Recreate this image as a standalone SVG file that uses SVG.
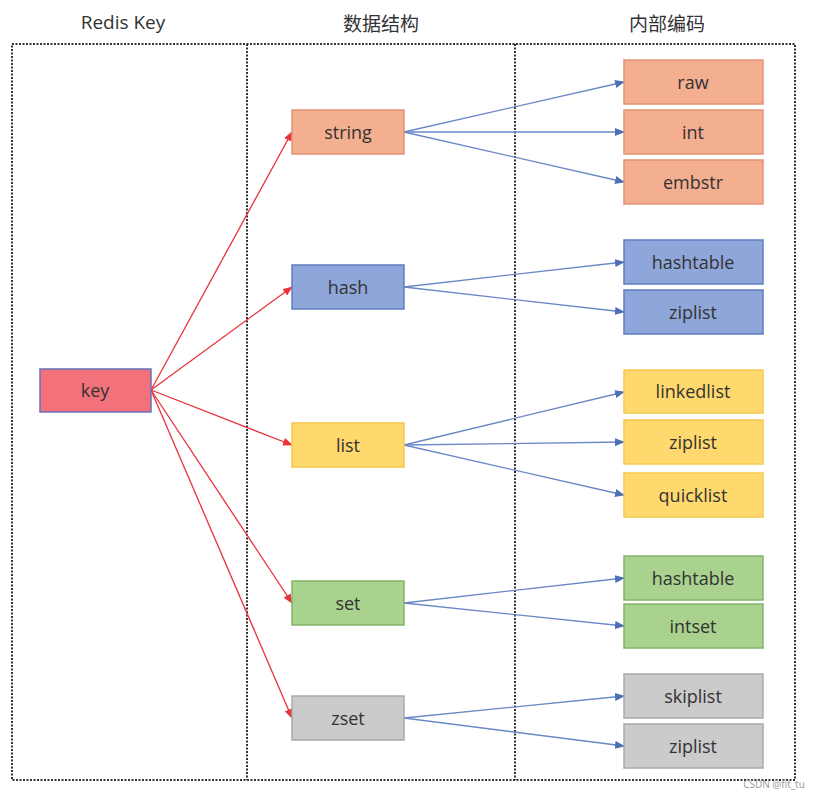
<svg xmlns="http://www.w3.org/2000/svg" width="822" height="798" viewBox="0 0 822 798">
<style>
text{font-family:"Open Sans","Noto Sans CJK SC",sans-serif;font-size:18px;fill:#333;text-anchor:middle;dominant-baseline:central}
.h{font-size:19px}
.o{fill:#F4AE90;stroke:#E39273;stroke-width:1.5}
.b{fill:#8FA6DA;stroke:#5F7EC2;stroke-width:1.5}
.y{fill:#FFD96E;stroke:#F6C84E;stroke-width:1.5}
.g{fill:#A8D28E;stroke:#82B46A;stroke-width:1.5}
.s{fill:#CBCBCB;stroke:#AAAAAA;stroke-width:1.5}
.r line{stroke:#E8323C;stroke-width:1.3;marker-end:url(#ar)}
.bl line{stroke:#6B88C6;stroke-width:1.3;marker-end:url(#ab)}
.frame{fill:none;stroke:#333;stroke-width:2;stroke-dasharray:2 1.5}
</style>
<defs>
<marker id="ar" markerWidth="10" markerHeight="8" refX="9" refY="4" orient="auto" markerUnits="userSpaceOnUse"><path d="M0,0L10,4L0,8z" fill="#E8323C"/></marker>
<marker id="ab" markerWidth="10" markerHeight="8" refX="9" refY="4" orient="auto" markerUnits="userSpaceOnUse"><path d="M0,0L10,4L0,8z" fill="#4F6FB5"/></marker>
</defs>
<rect width="822" height="798" fill="#fff"/>
<g id="frame">
<rect class="frame" x="12" y="44" width="783" height="736"/>
<line class="frame" x1="247" y1="44" x2="247" y2="780"/>
<line class="frame" x1="515" y1="44" x2="515" y2="780"/>
<text class="h" x="123" y="22">Redis Key</text>
<text class="h" x="381" y="24">数据结构</text>
<text class="h" x="667" y="24">内部编码</text>
</g>
<g id="connectors">
<g class="r">
<line x1="151" y1="390" x2="292" y2="132"/>
<line x1="151" y1="390" x2="292" y2="287"/>
<line x1="151" y1="390" x2="292" y2="445"/>
<line x1="151" y1="390" x2="292" y2="603"/>
<line x1="151" y1="390" x2="292" y2="718"/>
</g>
<g class="bl">
<line x1="404" y1="132" x2="624" y2="82"/>
<line x1="404" y1="132" x2="624" y2="132"/>
<line x1="404" y1="132" x2="624" y2="182"/>
<line x1="404" y1="287" x2="624" y2="262"/>
<line x1="404" y1="287" x2="624" y2="312"/>
<line x1="404" y1="445" x2="624" y2="392"/>
<line x1="404" y1="445" x2="624" y2="442"/>
<line x1="404" y1="445" x2="624" y2="495"/>
<line x1="404" y1="603" x2="624" y2="578"/>
<line x1="404" y1="603" x2="624" y2="626"/>
<line x1="404" y1="718" x2="624" y2="696"/>
<line x1="404" y1="718" x2="624" y2="746"/>
</g>
</g>
<g id="key"><rect x="40" y="369" width="111" height="43" fill="#F2717B" stroke="#6A70B8" stroke-width="1.5"/><text x="95" y="390">key</text></g>
<g id="string"><rect class="o" x="292" y="110" width="112" height="44"/><text x="348" y="132">string</text></g>
<g id="hash"><rect class="b" x="292" y="265" width="112" height="44"/><text x="348" y="287">hash</text></g>
<g id="list"><rect class="y" x="292" y="423" width="112" height="44"/><text x="348" y="445">list</text></g>
<g id="set"><rect class="g" x="292" y="581" width="112" height="44"/><text x="348" y="603">set</text></g>
<g id="zset"><rect class="s" x="292" y="696" width="112" height="44"/><text x="348" y="718">zset</text></g>
<g id="raw"><rect class="o" x="624" y="60" width="139" height="44"/><text x="693" y="82">raw</text></g>
<g id="int"><rect class="o" x="624" y="110" width="139" height="44"/><text x="693" y="132">int</text></g>
<g id="embstr"><rect class="o" x="624" y="160" width="139" height="44"/><text x="693" y="182">embstr</text></g>
<g id="hashtable1"><rect class="b" x="624" y="240" width="139" height="44"/><text x="693" y="262">hashtable</text></g>
<g id="ziplist1"><rect class="b" x="624" y="290" width="139" height="44"/><text x="693" y="312">ziplist</text></g>
<g id="linkedlist"><rect class="y" x="624" y="370" width="139" height="43"/><text x="693" y="391">linkedlist</text></g>
<g id="ziplist2"><rect class="y" x="624" y="420" width="139" height="44"/><text x="693" y="442">ziplist</text></g>
<g id="quicklist"><rect class="y" x="624" y="473" width="139" height="44"/><text x="693" y="495">quicklist</text></g>
<g id="hashtable2"><rect class="g" x="624" y="556" width="139" height="44"/><text x="693" y="578">hashtable</text></g>
<g id="intset"><rect class="g" x="624" y="604" width="139" height="44"/><text x="693" y="626">intset</text></g>
<g id="skiplist"><rect class="s" x="624" y="674" width="139" height="44"/><text x="693" y="696">skiplist</text></g>
<g id="ziplist3"><rect class="s" x="624" y="724" width="139" height="44"/><text x="693" y="746">ziplist</text></g>
<text x="774" y="784" style="font-size:10px;fill:#999">CSDN @fit_tu</text>
</svg>
